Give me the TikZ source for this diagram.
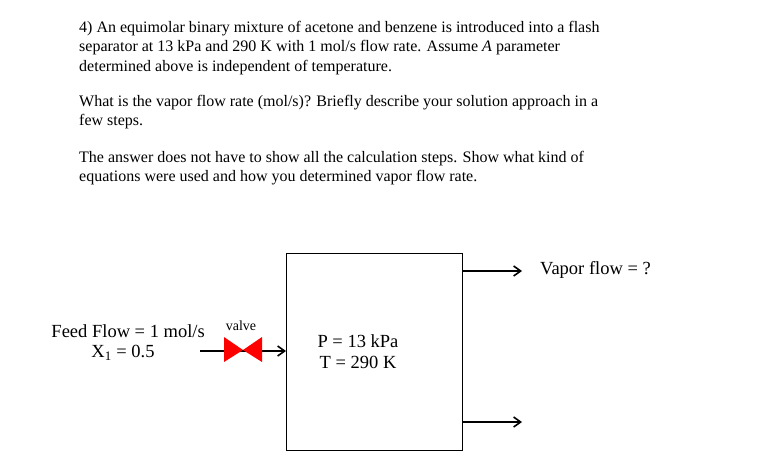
\documentclass[tikz,border=0pt]{standalone}
\usepackage{fontspec}
\usetikzlibrary{arrows.meta}
\setmainfont{Liberation Serif}
\begin{document}
\begin{tikzpicture}[x=1pt,y=-1pt,
  txt/.style={anchor=north west,inner sep=0pt,align=left,font=\fontsize{16}{19.5}\selectfont},
  lbl/.style={inner sep=0pt,font=\fontsize{18.5}{21}\selectfont},
  arr/.style={-{Straight Barb[length=7pt,width=10pt]},line width=1.6pt}]
\useasboundingbox (0,0) rectangle (778,466);
\node[txt] (p1) at (79,21) {4) An equimolar binary mixture of acetone and benzene is introduced into a flash\\separator at 13 kPa and 290 K with 1 mol/s flow rate. Assume \textit{A} parameter\\determined above is independent of temperature.};
\node[txt] (p2) at (79,95) {What is the vapor flow rate (mol/s)? Briefly describe your solution approach in a\\few steps.};
\node[txt] (p3) at (79,151) {The answer does not have to show all the calculation steps. Show what kind of\\equations were used and how you determined vapor flow rate.};
\node[draw,line width=1pt,minimum width=176,minimum height=197,anchor=north west,inner sep=0pt] (box) at (286,253) {};
\node[lbl,align=center] (cond) at (358,352) {P = 13 kPa\\T = 290 K};
\coordinate (vin) at (462,271);
\coordinate (vout) at (522,271);
\coordinate (lin) at (462,422);
\coordinate (lout) at (522,422);
\draw[arr] (vin) -- (vout);
\draw[arr] (lin) -- (lout);
\node[lbl,anchor=west] (vap) at (540,270) {Vapor flow = ?};
\node[lbl,anchor=east] (feed) at (205,331) {Feed Flow = 1 mol/s};
\node[lbl] (x1) at (123,353) {X\textsubscript{1} = 0.5};
\node[lbl,font=\fontsize{14}{15}\selectfont] (valvelbl) at (241,326) {valve};
\coordinate (fin) at (200,351);
\coordinate (fout) at (286,351);
\draw[arr] (fin) -- (fout);
\coordinate (vc) at (243,350);
\fill[red] (224,337) -- (vc) -- (224,362) -- cycle;
\fill[red] (262,337) -- (vc) -- (262,362) -- cycle;
\end{tikzpicture}
\end{document}
